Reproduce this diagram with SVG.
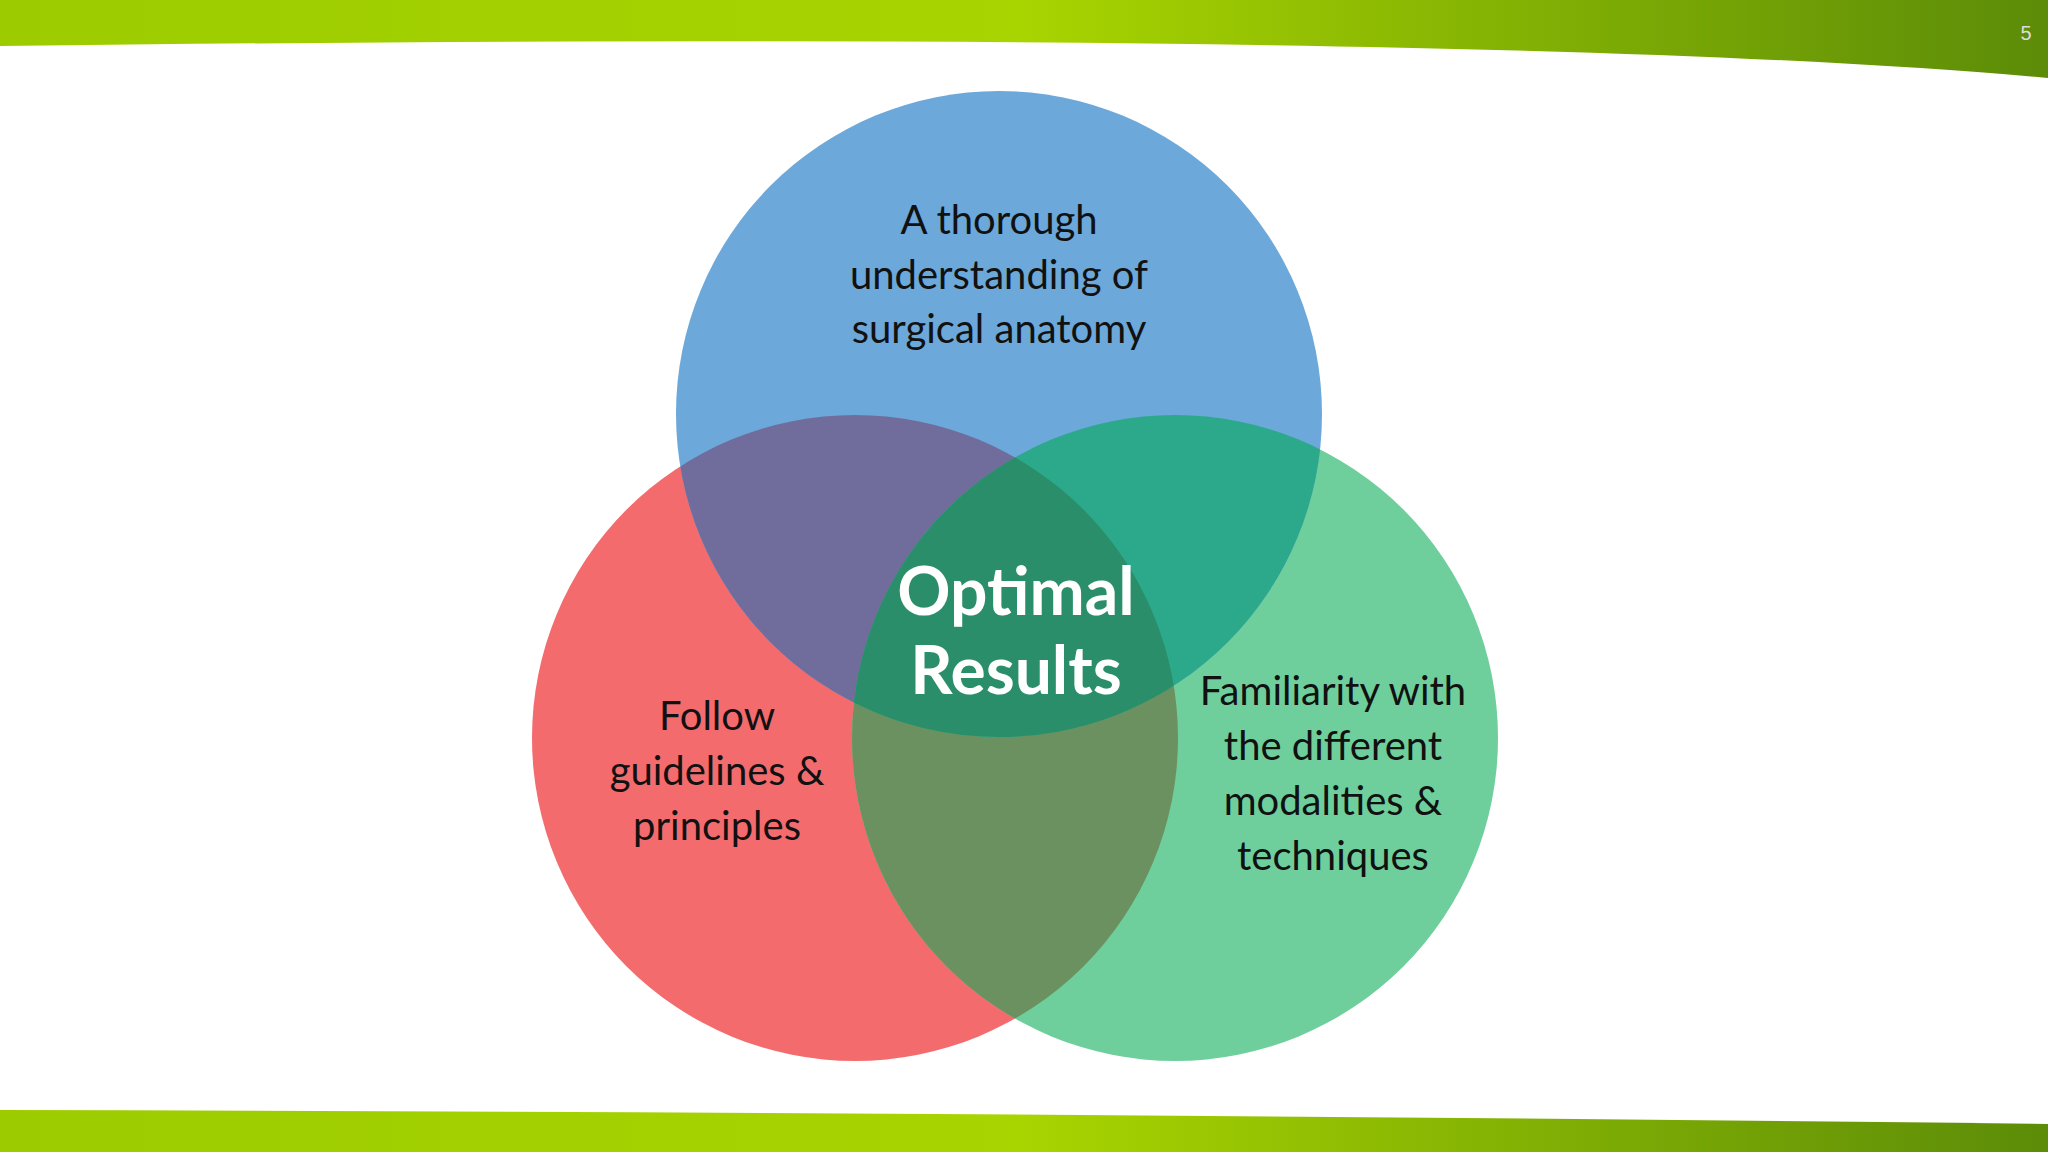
<svg xmlns="http://www.w3.org/2000/svg" width="2048" height="1152" viewBox="0 0 2048 1152">
<style>
.t{font-family:Lato,"Open Sans",sans-serif;font-size:40px;fill:#111;text-anchor:middle}
.c{font-family:Lato,"Open Sans",sans-serif;font-size:66px;font-weight:bold;fill:#fff;text-anchor:middle}
</style>
<defs>
<linearGradient id="gb" x1="0" x2="1"><stop offset="0" stop-color="#9ccc00"/><stop offset="0.5" stop-color="#a8d400"/><stop offset="1" stop-color="#5c8c08"/></linearGradient>
<clipPath id="cB"><circle cx="999" cy="414" r="323"/></clipPath>
<clipPath id="cG"><circle cx="1175" cy="738" r="323"/></clipPath>
<clipPath id="cBG" clip-path="url(#cB)"><circle cx="1175" cy="738" r="323"/></clipPath>
</defs>
<rect width="2048" height="1152" fill="#fff"/>
<path d="M0 0H2048V78Q1500 28 0 46Z" fill="url(#gb)"/>
<path d="M0 1152V1110Q1000 1112 2048 1124V1152Z" fill="url(#gb)"/>
<text x="2026" y="40" font-family="Liberation Sans,sans-serif" font-size="20" fill="#ddd" text-anchor="middle">5</text>
<g id="red"><circle cx="855" cy="738" r="323" fill="#f46b6e"/></g>
<g id="green"><circle cx="1175" cy="738" r="323" fill="#6fcf9c"/></g>
<g id="blue"><circle cx="999" cy="414" r="323" fill="#6ca8da"/></g>
<g id="overlaps">
<circle cx="855" cy="738" r="323" fill="#706d9d" clip-path="url(#cB)"/>
<circle cx="855" cy="738" r="323" fill="#6b9160" clip-path="url(#cG)"/>
<circle cx="1175" cy="738" r="323" fill="#2ca98a" clip-path="url(#cB)"/>
<circle cx="855" cy="738" r="323" fill="#2a8e6a" clip-path="url(#cBG)"/>
</g>
<g id="labels">
<text class="t" x="999" y="234">A thorough</text>
<text class="t" x="999" y="289">understanding of</text>
<text class="t" x="999" y="343">surgical anatomy</text>
<text class="t" x="717" y="730">Follow</text>
<text class="t" x="717" y="785">guidelines &amp;</text>
<text class="t" x="717" y="840">principles</text>
<text class="t" x="1333" y="705">Familiarity with</text>
<text class="t" x="1333" y="760">the different</text>
<text class="t" x="1333" y="815">modalities &amp;</text>
<text class="t" x="1333" y="870">techniques</text>
<text class="c" x="1016" y="615">Optimal</text>
<text class="c" x="1016" y="694">Results</text>
</g>
</svg>
